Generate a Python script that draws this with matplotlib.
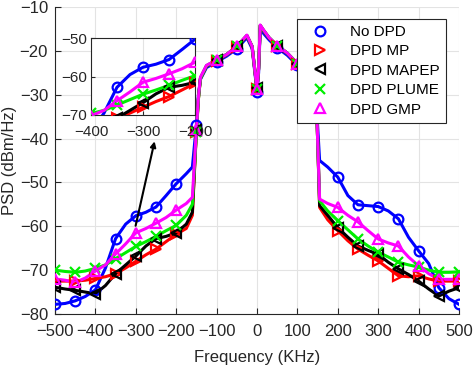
import matplotlib
matplotlib.use("Agg")
import matplotlib.pyplot as plt
from matplotlib.lines import Line2D
import numpy as np

plt.rcParams['font.family'] = ['Liberation Sans', 'DejaVu Sans']

freq = [-500, -475, -450, -425, -400, -375, -350, -325, -300, -275, -250, -225, -200,
        -175, -160, -150, -145, -140, -125, -100, -75, -50, -25, -12, -4, 0, 4, 8, 16,
        30, 50, 75, 100, 125, 145, 150, 155, 175, 200, 225, 250, 275, 300, 325, 350,
        375, 400, 425, 450, 475, 500]

no_dpd = [-77.8, -77.6, -77.0, -76.0, -74.5, -69.5, -62.8, -59.5, -57.6, -56.8, -55.6, -53.0, -50.3,
          -48.0, -46.5, -36.8, -30.0, -26.5, -23.8, -22.5, -21.2, -19.5, -17.0, -19.5, -26.0, -29.3, -25.0, -14.8, -16.0,
          -17.5, -19.3, -21.0, -23.3, -24.5, -26.5, -37.0, -45.0, -46.5, -48.8, -53.0, -55.1, -55.3, -55.5, -56.5, -58.3,
          -62.5, -65.6, -68.5, -74.0, -76.5, -77.8]

dpd_mp = [-72.5, -72.5, -72.5, -72.3, -71.9, -71.5, -70.8, -69.5, -68.0, -66.5, -65.2, -63.5, -61.8,
          -60.5, -57.5, -38.5, -31.0, -26.3, -23.5, -22.2, -20.9, -19.1, -16.6, -19.1, -25.6, -28.8, -24.2, -14.3, -15.4,
          -17.1, -18.9, -20.6, -23.0, -24.1, -26.1, -40.0, -55.7, -58.5, -61.0, -63.3, -65.2, -66.6, -67.9, -69.6, -71.3,
          -71.5, -71.3, -72.0, -72.5, -72.5, -72.5]

dpd_mapep = [-73.9, -74.3, -74.6, -75.0, -75.4, -73.5, -70.8, -68.8, -66.8, -64.5, -62.8, -62.3, -61.5,
             -59.5, -56.8, -38.0, -30.8, -26.2, -23.4, -22.1, -20.8, -19.0, -16.5, -19.0, -25.5, -28.5, -24.0, -14.2, -15.3,
             -17.0, -18.8, -20.5, -22.9, -24.0, -26.0, -40.0, -55.3, -57.5, -60.3, -62.5, -64.5, -65.5, -66.4, -68.2, -69.7,
             -71.0, -72.5, -74.3, -75.9, -74.8, -74.0]

dpd_plume = [-70.0, -70.3, -70.5, -70.2, -69.6, -68.8, -67.4, -66.0, -64.6, -63.5, -62.3, -61.0, -59.8,
             -57.5, -55.0, -38.5, -31.0, -26.3, -23.4, -22.1, -20.8, -19.0, -16.5, -19.0, -25.5, -28.6, -24.0, -14.2, -15.3,
             -17.0, -18.8, -20.5, -22.9, -24.0, -26.0, -40.0, -54.2, -56.5, -58.7, -60.8, -62.9, -64.5, -65.9, -67.0, -68.2,
             -68.8, -69.3, -70.0, -70.5, -70.5, -70.4]

dpd_gmp = [-72.0, -72.3, -72.8, -71.8, -70.2, -68.8, -66.3, -64.0, -61.5, -60.5, -59.3, -58.0, -56.3,
           -54.8, -53.4, -38.0, -30.5, -26.0, -23.3, -22.1, -20.8, -19.0, -16.4, -19.0, -25.5, -28.6, -24.0, -14.1, -15.2,
           -17.0, -18.8, -20.5, -22.9, -24.0, -26.0, -40.0, -53.8, -54.8, -55.7, -57.5, -59.0, -61.0, -62.9, -63.8, -64.5,
           -67.0, -69.0, -70.8, -72.1, -72.1, -72.1]

series = [
    ("No DPD", no_dpd, "#0000ff", "o"),
    ("DPD MP", dpd_mp, "#ff0000", ">"),
    ("DPD MAPEP", dpd_mapep, "#000000", "<"),
    ("DPD PLUME", dpd_plume, "#00ee00", "x"),
    ("DPD GMP", dpd_gmp, "#ff00ff", "^"),
]

marker_freqs = [-500, -450, -400, -350, -300, -250, -200, -150, -100, -50, 0, 50, 100,
                200, 250, 300, 350, 400, 450, 500]

xticks = [-500, -400, -300, -200, -100, 0, 100, 200, 300, 400, 500]
yticks = [-80, -70, -60, -50, -40, -30, -20, -10]

freq_arr = np.array(freq)
mark_idx = [freq.index(f) for f in marker_freqs]

fig = plt.figure(figsize=(4.74, 3.70), dpi=100)
ax = fig.add_axes([55/474, 1-314/370, 404/474, 307/370])

def draw(a, ms=7, lw=2.2):
    for name, vals, col, mk in series:
        v = np.array(vals)
        a.plot(freq_arr, v, color=col, lw=lw, zorder=3)
        a.plot(freq_arr[mark_idx], v[mark_idx], linestyle='none', marker=mk, ms=ms,
               mfc='none', mec=col, mew=1.6, zorder=4)

draw(ax)
ax.set_xlim(-500, 500)
ax.set_ylim(-80, -10)
ax.set_xticks(xticks)
ax.set_yticks(yticks)
ax.grid(True, color='#e3e3e3', lw=0.8)
ax.set_axisbelow(True)
for s in ['top', 'right']:
    ax.spines[s].set_visible(False)
for s in ['left', 'bottom']:
    ax.spines[s].set_color('#262626')
ax.tick_params(direction='in', labelsize=12, colors='#262626', length=4)
ax.tick_params(axis='x', pad=7)
ax.tick_params(axis='y', pad=5)
ax.set_xlabel("Frequency (KHz)", fontsize=12, color='#262626', labelpad=8)
ax.set_ylabel("PSD (dBm/Hz)", fontsize=12, color='#262626', labelpad=2)

handles = [Line2D([], [], linestyle='none', marker=mk, mfc='none', mec=col, mew=1.6, ms=7)
           for name, vals, col, mk in series]
leg = ax.legend(handles, [s[0] for s in series], loc='upper right',
                bbox_to_anchor=(446/474, 1-19/370), bbox_transform=fig.transFigure,
                fontsize=11, frameon=True, fancybox=False,
                framealpha=1, edgecolor='#262626', handlelength=2.2, handletextpad=0.9,
                borderpad=0.4, labelspacing=0.35, borderaxespad=0)
leg.get_frame().set_linewidth(0.8)
leg.set_zorder(10)

ax.annotate("", xy=(-252, -40), xytext=(-302, -60.5),
            arrowprops=dict(arrowstyle='-|>', color='black', lw=1.5, mutation_scale=8),
            zorder=5)

ins = fig.add_axes([91/474, 1-115/370, 104/474, 77/370])
draw(ins)
ins.set_xlim(-400, -200)
ins.set_ylim(-70, -50)
ins.set_xticks([-400, -300, -200])
ins.set_yticks([-70, -60, -50])
ins.grid(True, color='#e3e3e3', lw=0.8)
ins.set_axisbelow(True)
for s in ins.spines.values():
    s.set_color('#262626')
ins.tick_params(direction='in', labelsize=11, colors='#262626', length=3)
ins.tick_params(axis='x', pad=7)
ins.tick_params(axis='y', pad=3)

fig.savefig("out.png", dpi=100)
